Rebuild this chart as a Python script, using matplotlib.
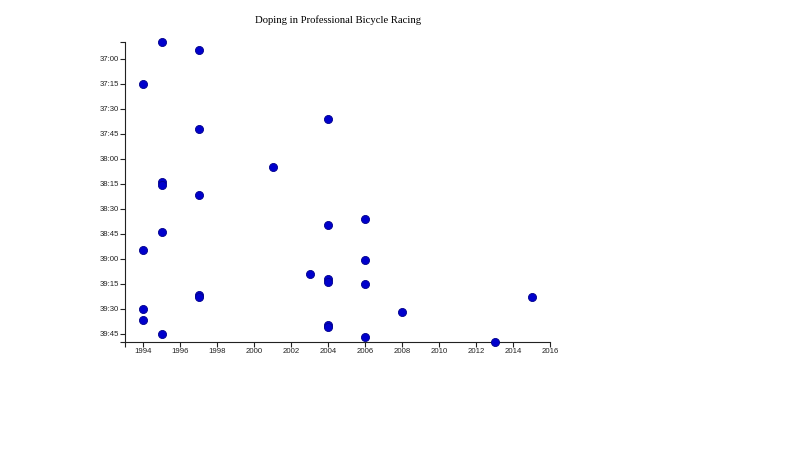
import matplotlib.pyplot as plt
from matplotlib.ticker import FuncFormatter

# year of each result and climb time (mm:ss)
years = [1995, 1997, 1994, 2004, 1997, 2001, 1995, 1995, 1997, 2006,
         2004, 1995, 1994, 2006, 2003, 2004, 2004, 2006, 1997, 1997,
         2015, 1994, 2008, 1994, 2004, 2004, 1995, 2006, 2013]
times = ["36:50", "36:55", "37:15", "37:36", "37:42", "38:05", "38:14", "38:16", "38:22", "38:36",
         "38:40", "38:44", "38:55", "39:01", "39:09", "39:12", "39:14", "39:15", "39:22", "39:23",
         "39:23", "39:30", "39:32", "39:37", "39:40", "39:41", "39:45", "39:47", "39:50"]

seconds = [int(t.split(":")[0]) * 60 + int(t.split(":")[1]) for t in times]

fig = plt.figure(figsize=(8, 4.5), dpi=100)
ax = fig.add_axes([125 / 800, 108 / 450, 425 / 800, 300 / 450])

ax.scatter(years, seconds, s=34, color="#0000cc", edgecolors="#00008b", linewidths=0.6, zorder=3, clip_on=False)

ax.set_xlim(min(years) - 1, max(years) + 1)
ax.set_ylim(max(seconds), min(seconds))

ax.set_xticks(range(1994, 2017, 2))
ax.set_xticks([min(years) - 1], minor=True)
ax.set_yticks(range(2220, 2390, 15))
ax.set_yticks([min(seconds), max(seconds)], minor=True)
ax.yaxis.set_major_formatter(FuncFormatter(lambda v, p: "%d:%02d" % (v // 60, v % 60)))

for side in ["top", "right"]:
    ax.spines[side].set_visible(False)
for side in ["left", "bottom"]:
    ax.spines[side].set_color("#222222")
    ax.spines[side].set_linewidth(0.8)

ax.tick_params(which="both", length=3.8, width=0.8, color="#222222", labelsize=5.6,
               labelcolor="#222222", pad=0.6)
for lbl in ax.get_xticklabels() + ax.get_yticklabels():
    lbl.set_family("Liberation Sans")

fig.text(338 / 800, 1 - 20 / 450, "Doping in Professional Bicycle Racing", ha="center", va="center",
         fontsize=7.7, family="Liberation Serif")

fig.savefig("out.png", dpi=100)
